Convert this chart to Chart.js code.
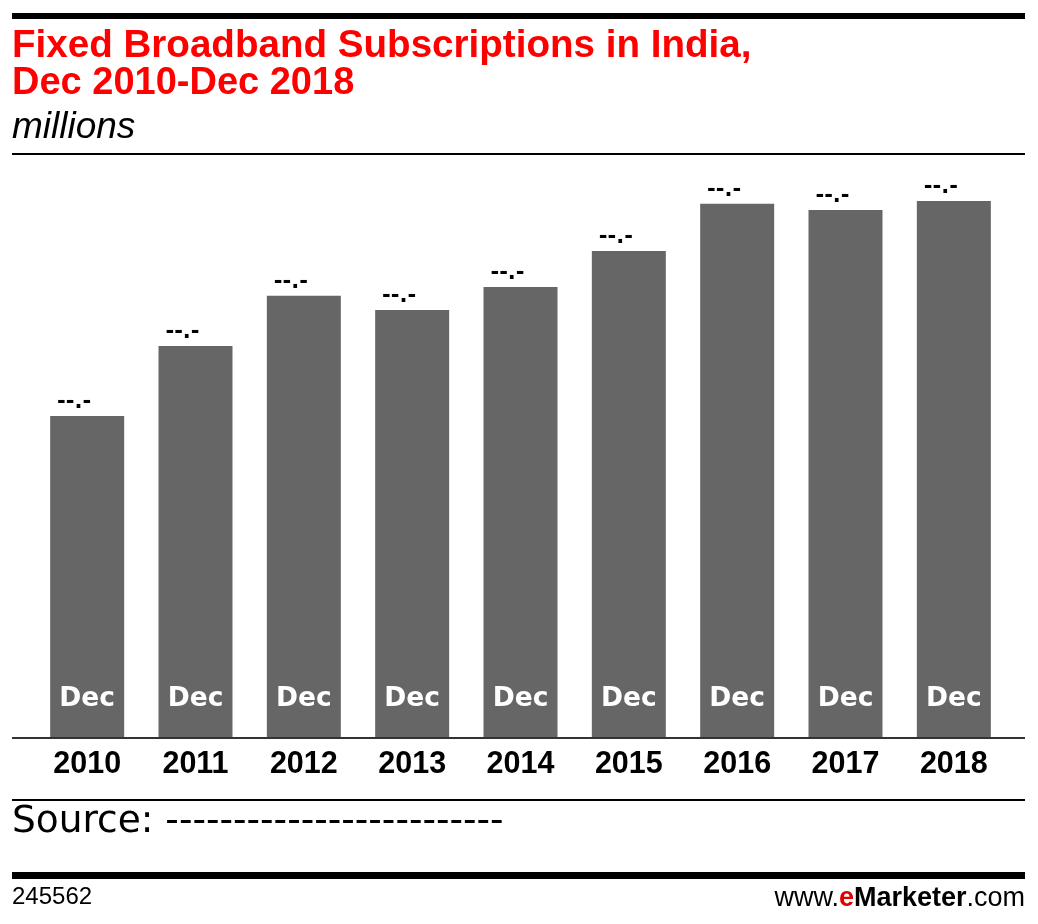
<!DOCTYPE html>
<html>
<head>
<meta charset="utf-8">
<script src="https://cdn.jsdelivr.net/npm/chart.js@4/dist/chart.umd.min.js"></script>
<style>
  html, body { margin: 0; padding: 0; background: #fff; }
  #wrap { position: relative; width: 1038px; height: 924px; }
</style>
</head>
<body>
<div id="wrap"><canvas id="myChart" width="1038" height="924"></canvas></div>
<script>
'use strict';
// data (values hidden as --.- in the original)
let years = ['2010', '2011', '2012', '2013', '2014', '2015', '2016', '2017', '2018'];
let subs = [10.99, 13.38, 15.09, 14.61, 15.39, 16.62, 18.23, 18.02, 18.33];
let valueLabels = ['--.-', '--.-', '--.-', '--.-', '--.-', '--.-', '--.-', '--.-', '--.-'];
let barTag = 'Dec';

let ctx = document.getElementById('myChart').getContext('2d');

// header, footer, rules and bar text
let decorPlugin = {
  id: 'decor',
  afterDatasetsDraw(chart) {
    let c = chart.ctx;
    let meta = chart.getDatasetMeta(0);
    c.save();
    c.textAlign = 'center';
    c.textBaseline = 'alphabetic';
    meta.data.forEach(function (bar, i) {
      // value labels sit a little left of the bar centre in the original
      c.fillStyle = '#000';
      c.font = 'bold 21px "DejaVu Sans"';
      c.fillText(valueLabels[i], bar.x - 13, bar.y - 8);
      c.fillStyle = '#fff';
      c.font = 'bold 26.5px "DejaVu Sans"';
      c.fillText(barTag, bar.x, 706);
    });
    c.restore();
  },
  afterDraw(chart) {
    let c = chart.ctx;
    c.save();
    // rules
    c.fillStyle = '#000';
    c.fillRect(12, 13, 1013, 6);
    c.fillRect(12, 153, 1013, 2);
    c.fillStyle = '#333';
    c.fillRect(12, 737, 1013, 2);
    c.fillStyle = '#000';
    c.fillRect(12, 799, 1013, 2);
    c.fillRect(12, 872, 1013, 7);

    // title
    c.textAlign = 'left';
    c.textBaseline = 'alphabetic';
    c.fillStyle = '#ff0000';
    c.font = 'bold 38.6px "Liberation Sans"';
    c.fillText('Fixed Broadband Subscriptions in India,', 12, 57);
    c.font = 'bold 38px "Liberation Sans"';
    c.fillText('Dec 2010-Dec 2018', 12, 94);
    c.fillStyle = '#000';
    c.font = 'italic 37px "Liberation Sans"';
    c.fillText('millions', 12, 138);

    // footer
    c.font = '37.5px "DejaVu Sans"';
    c.fillText('Source: -------------------------', 12, 832);
    c.font = '24px "Liberation Sans"';
    c.fillText('245562', 12, 904);

    // www.eMarketer.com, right aligned
    let parts = [
      ['www.', '27px "Liberation Sans"', '#000'],
      ['e', 'bold 27px "Liberation Sans"', '#e00000'],
      ['Marketer', 'bold 27px "Liberation Sans"', '#000'],
      ['.com', '27px "Liberation Sans"', '#000']
    ];
    let total = 0;
    parts.forEach(function (p) { c.font = p[1]; total += c.measureText(p[0]).width; });
    let x = 1025 - total;
    parts.forEach(function (p) {
      c.font = p[1];
      c.fillStyle = p[2];
      c.fillText(p[0], x, 906);
      x += c.measureText(p[0]).width;
    });
    c.restore();
  }
};

new Chart(ctx, {
  type: 'bar',
  data: {
    labels: years,
    datasets: [{
      label: 'Fixed broadband subscriptions (millions)',
      data: subs,
      backgroundColor: '#666666',
      barPercentage: 0.683,
      categoryPercentage: 1
    }]
  },
  options: {
    responsive: false,
    animation: false,
    layout: { padding: { left: 33, right: 30, top: 152, bottom: 126 } },
    plugins: {
      legend: { display: false },
      tooltip: { enabled: false },
      title: { display: false }
    },
    scales: {
      x: {
        grid: { display: false, drawTicks: false },
        border: { display: false },
        ticks: {
          color: '#000',
          font: { family: 'Liberation Sans', weight: 'bold', size: 30.5 },
          padding: 8,
          maxRotation: 0
        },
        afterFit: function (scale) { scale.height = 60; }
      },
      y: {
        display: false,
        min: 0,
        max: 20
      }
    }
  },
  plugins: [decorPlugin]
});
</script>
</body>
</html>
